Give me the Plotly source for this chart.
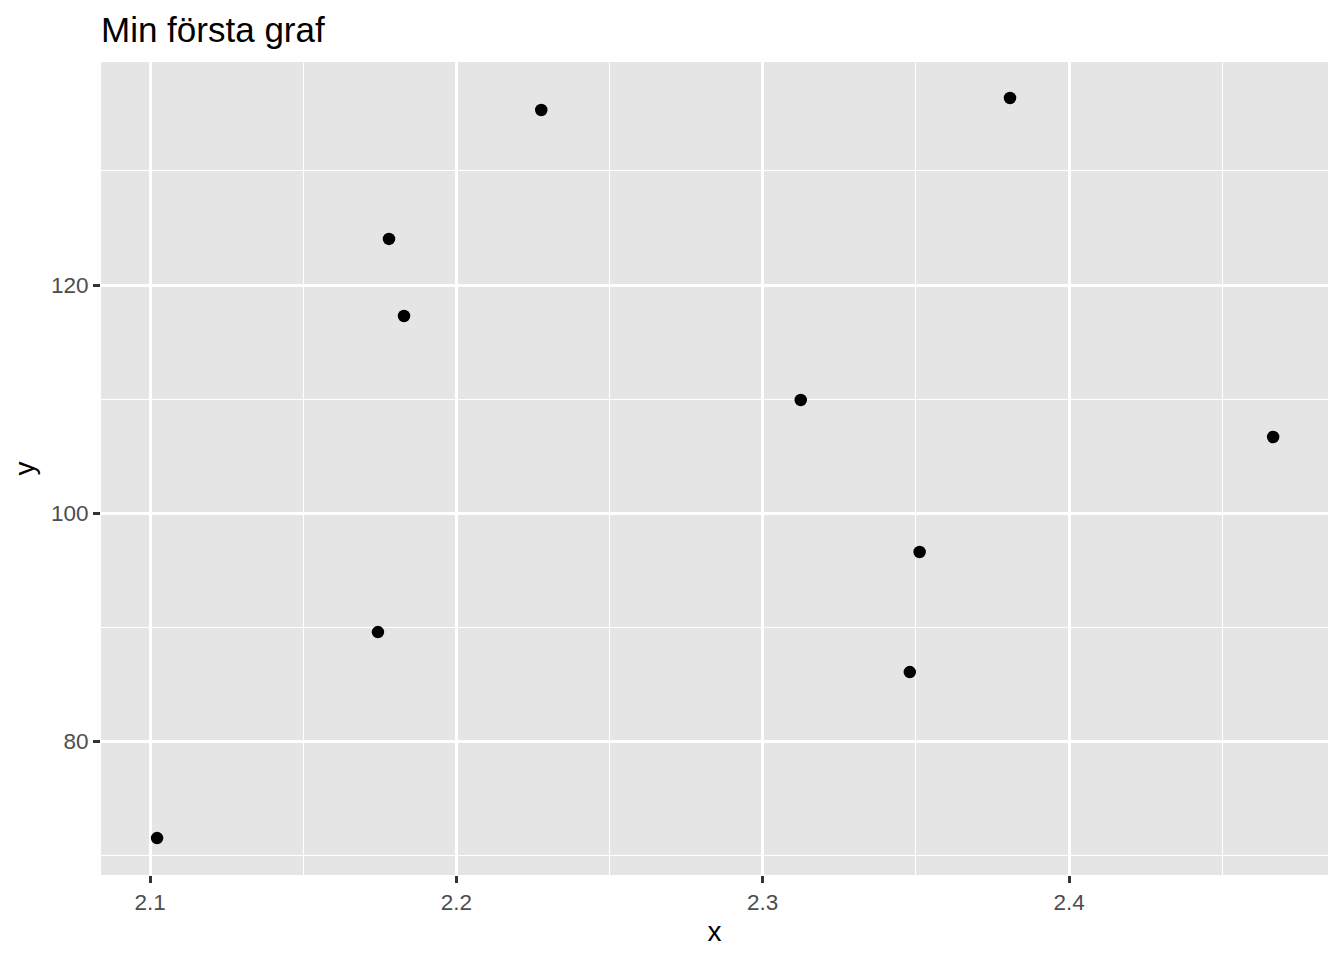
import plotly.graph_objects as go

x_vals = [2.1023, 2.1744, 2.1780, 2.1829, 2.2277, 2.3124, 2.3512, 2.3480, 2.3807, 2.4666]
y_vals = [71.49, 89.56, 124.04, 117.28, 135.35, 109.91, 96.58, 86.05, 136.40, 106.67]
x_ticks = [2.1, 2.2, 2.3, 2.4]
y_ticks = [80, 100, 120]
title_text = "Min första graf"

fig = go.Figure(go.Scatter(
    x=x_vals, y=y_vals, mode="markers",
    marker=dict(color="black", size=12.5, line=dict(width=0)),
    showlegend=False,
))

font_family = "Liberation Sans, Arial, sans-serif"

# page body has an 8px margin, so the figure is offset by 8px
W, H = 1336, 952
fig.update_layout(
    width=W, height=H,
    margin=dict(l=93, r=16, t=54, b=85),
    paper_bgcolor="white",
    plot_bgcolor="#e5e5e5",
    font=dict(family=font_family, color="black"),
    title=dict(text=title_text, x=(101 - 8) / W, xanchor="left", y=1 - (30 - 8) / H, yanchor="middle",
               font=dict(size=35, color="black", family=font_family)),
)

fig.update_xaxes(
    range=[2.084, 2.4845], tickvals=x_ticks, ticktext=[str(v) for v in x_ticks],
    showgrid=True, gridcolor="white", gridwidth=2.7,
    minor=dict(dtick=0.05, tick0=2.05, showgrid=True, gridcolor="white", gridwidth=1.4, ticks=""),
    ticks="outside", ticklen=7, tickwidth=2.7, tickcolor="#333333",
    tickfont=dict(size=22.5, color="#4d4d4d"),
    title=dict(text="x", font=dict(size=28, color="black"), standoff=7),
    zeroline=False, showline=False,
)
fig.update_yaxes(
    range=[68.25, 139.56], tickvals=y_ticks, ticktext=[str(v) for v in y_ticks],
    showgrid=True, gridcolor="white", gridwidth=2.7,
    minor=dict(dtick=10, tick0=70, showgrid=True, gridcolor="white", gridwidth=1.4, ticks=""),
    ticks="outside", ticklen=7, tickwidth=2.7, tickcolor="#333333",
    tickfont=dict(size=22.5, color="#4d4d4d"),
    title=dict(text="y", font=dict(size=28, color="black"), standoff=8),
    zeroline=False, showline=False,
)

fig.write_html("out.html")
